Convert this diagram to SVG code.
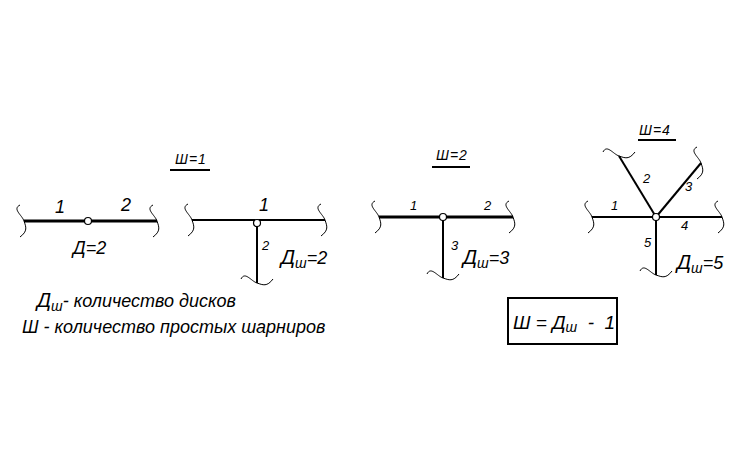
<svg xmlns="http://www.w3.org/2000/svg" width="748" height="466" viewBox="0 0 748 466">
<style>
.t{font-family:"Liberation Sans",Arial,sans-serif;font-style:italic;fill:#000}
.big{font-size:18px}
.sm{font-size:13px}
.ttl{font-size:14px;letter-spacing:1px}
.thk{stroke:#000;stroke-width:3;fill:none}
.thn{stroke:#000;stroke-width:2;fill:none}
.w{stroke:#000;stroke-width:1;fill:none}
.h{fill:#fff;stroke:#000;stroke-width:1.2}
</style>
<rect width="748" height="466" fill="#fff"/>
<defs>
<path id="wv" d="M-4,-16 C-12,-12 -2,-6 0,0 C2,6 4,10 -4,16"/>
<path id="wh" d="M-16,-4 C-12,-12 -6,-2 0,0 C6,2 10,4 16,-4"/>
</defs>
<g id="fig1">
<line class="thk" x1="24" y1="221" x2="157" y2="221"/>
<use href="#wv" class="w" x="24" y="221"/><use href="#wv" class="w" x="157" y="221"/>
<circle class="h" cx="88" cy="221" r="3.5"/>
<text class="t big" x="55" y="213">1</text><text class="t big" x="121" y="211">2</text>
<text class="t big" x="73" y="254">Д=2</text>
</g>
<g id="fig2">
<text class="t ttl" x="175" y="164">Ш=1</text><line class="thn" x1="170" y1="170" x2="210" y2="170"/>
<line class="thn" x1="192" y1="220" x2="325" y2="220"/>
<line class="thn" x1="257" y1="225" x2="257" y2="283"/>
<use href="#wv" class="w" x="192" y="220"/><use href="#wv" class="w" x="325" y="220"/>
<use href="#wh" class="w" x="257" y="283"/>
<circle class="h" cx="257" cy="223" r="3.5"/>
<text class="t big" x="259" y="211">1</text><text class="t sm" x="262" y="250">2</text>
<text class="t" font-size="20" x="281" y="264">Д<tspan font-size="14" dy="4">ш</tspan><tspan dy="-4" font-size="18">=2</tspan></text>
</g>
<g id="fig3">
<text class="t ttl" x="436" y="160">Ш=2</text><line class="thn" x1="432" y1="167" x2="470" y2="167"/>
<line class="thk" x1="379" y1="217" x2="513" y2="217"/>
<line class="thn" x1="443" y1="217" x2="443" y2="278"/>
<use href="#wv" class="w" x="379" y="217"/><use href="#wv" class="w" x="513" y="217"/>
<use href="#wh" class="w" x="443" y="278"/>
<circle class="h" cx="443" cy="217" r="3.5"/>
<text class="t sm" x="410" y="210">1</text><text class="t sm" x="484" y="210">2</text><text class="t sm" x="451" y="250">3</text>
<text class="t" font-size="20" x="463" y="264">Д<tspan font-size="14" dy="4">ш</tspan><tspan dy="-4" font-size="18">=3</tspan></text>
</g>
<g id="fig4">
<text class="t ttl" x="639" y="135">Ш=4</text><line class="thn" x1="638" y1="140" x2="676" y2="140"/>
<line class="thn" x1="592" y1="217" x2="722" y2="217"/>
<line class="thn" x1="656" y1="217" x2="619" y2="156"/>
<line class="thn" x1="656" y1="217" x2="701" y2="163"/>
<line class="thn" x1="656" y1="220" x2="656" y2="275"/>
<use href="#wv" class="w" x="592" y="217"/><use href="#wv" class="w" x="722" y="217"/>
<use href="#wh" class="w" x="619" y="156"/><use href="#wv" class="w" x="701" y="163"/>
<use href="#wh" class="w" x="656" y="275"/>
<circle class="h" cx="656" cy="217" r="3.5"/>
<text class="t sm" x="611" y="210">1</text><text class="t sm" x="643" y="183">2</text><text class="t sm" x="685" y="191">3</text>
<text class="t sm" x="681" y="230">4</text><text class="t sm" x="644" y="247">5</text>
<text class="t" font-size="20" x="677" y="269">Д<tspan font-size="14" dy="4">ш</tspan><tspan dy="-4" font-size="18">=5</tspan></text>
</g>
<g id="legend">
<text class="t" font-size="20" x="37" y="307">Д<tspan font-size="14" dy="4">ш</tspan><tspan dy="-4" font-size="18">- количество дисков</tspan></text>
<text class="t" font-size="18" x="22" y="333">Ш - количество простых шарниров</text>
</g>
<g id="formula">
<rect x="508" y="298" width="109" height="46" fill="none" stroke="#000" stroke-width="2"/>
<text class="t" font-size="19" x="513" y="329">Ш = Д<tspan font-size="14" dy="3">ш</tspan><tspan dy="-3" xml:space="preserve">  -  1</tspan></text>
</g>
<g id="connectors"/>
</svg>
